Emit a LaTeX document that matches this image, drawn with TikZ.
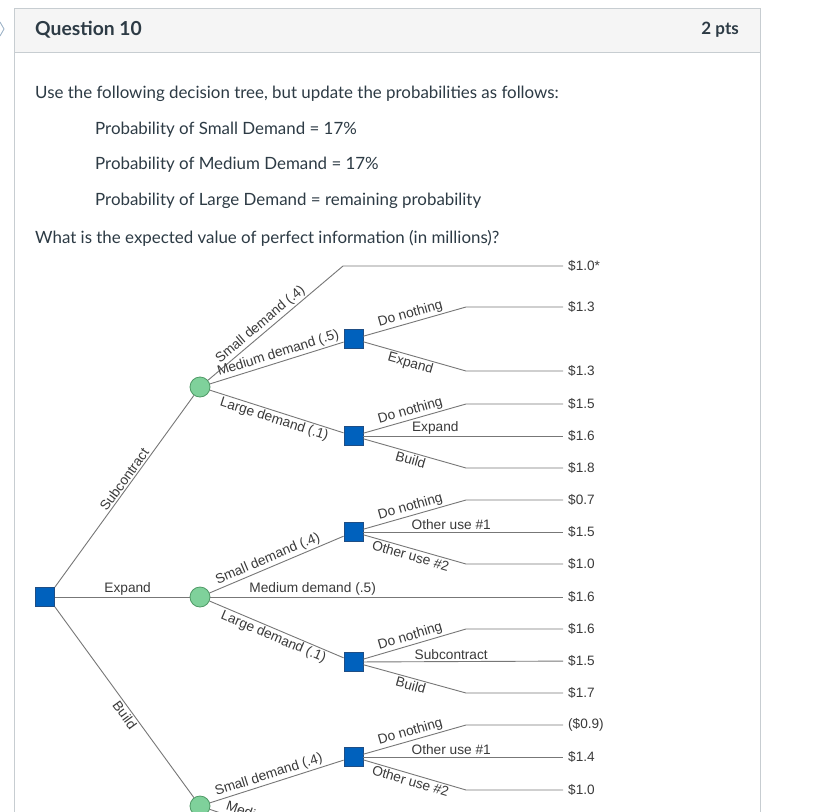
\documentclass[tikz,border=0pt]{standalone}
\usepackage{fontspec}
\setmainfont{Lato}
\newfontfamily\treefont{Liberation Sans}
\definecolor{frame}{HTML}{C7CDD1}
\definecolor{headbg}{HTML}{F5F5F5}
\definecolor{ink}{HTML}{2D3B45}
\definecolor{decblue}{HTML}{0061BD}
\definecolor{decborder}{HTML}{1F4E85}
\definecolor{chgreen}{HTML}{7FD19B}
\definecolor{chborder}{HTML}{4F9A66}
\definecolor{linegray}{HTML}{777777}
\definecolor{labelgray}{HTML}{3A3A3A}
\definecolor{chev}{HTML}{9FB4C8}
\begin{document}
\begin{tikzpicture}[x=1pt,y=-1pt,
  dec/.style={rectangle, draw=decborder, fill=decblue, minimum size=19pt, inner sep=0pt, line width=0.8pt},
  chance/.style={circle, draw=chborder, fill=chgreen, minimum size=20pt, inner sep=0pt, line width=0.8pt},
  branch/.style={draw=linegray, line width=0.9pt},
  lbl/.style={font=\treefont\fontsize{13.7}{15}\selectfont, text=labelgray, inner sep=1.6pt, sloped},
  val/.style={font=\treefont\fontsize{13.6}{15}\selectfont, text=labelgray, anchor=west, inner xsep=5pt, inner ysep=0pt},
  body/.style={font=\fontsize{16.9}{20}\selectfont, text=ink, anchor=west, inner sep=0pt},
]
\useasboundingbox (0,0) rectangle (840,811);
\clip (0,0) rectangle (840,811);
% frame and header
\fill[white] (0,0) rectangle (840,811);
\filldraw[fill=headbg, draw=frame, line width=0.9pt] (14,8) rectangle (760,52);
\draw[frame, line width=0.9pt] (14,52) -- (14,830);
\draw[frame, line width=0.9pt] (760,52) -- (760,830);
\draw[chev, line width=0.9pt] (0,22) -- (4,29) -- (0,36);
\node[anchor=west, inner sep=0pt, text=ink, font=\bfseries\fontsize{19.3}{22}\selectfont] (qtitle) at (35,30) {Question 10};
\node[anchor=east, inner sep=0pt, text=ink, font=\bfseries\fontsize{17}{20}\selectfont] (pts) at (739,30) {2 pts};
% body text
\node[body] (t1) at (35,94) {Use the following decision tree, but update the probabilities as follows:};
\node[body] (t2) at (95,130) {Probability of Small Demand = 17\%};
\node[body] (t3) at (95,165) {Probability of Medium Demand = 17\%};
\node[body] (t4) at (95,201) {Probability of Large Demand = remaining probability};
\node[body] (t5) at (35,238) {What is the expected value of perfect information (in millions)?};
% value labels
\node[val] (v1) at (563,266) {\$1.0*};
\node[val] (v2) at (563,307) {\$1.3};
\node[val] (v3) at (563,371) {\$1.3};
\node[val] (v4) at (563,404) {\$1.5};
\node[val] (v5) at (563,436) {\$1.6};
\node[val] (v6) at (563,468) {\$1.8};
\node[val] (v7) at (563,500) {\$0.7};
\node[val] (v8) at (563,532) {\$1.5};
\node[val] (v9) at (563,564) {\$1.0};
\node[val] (v10) at (563,597) {\$1.6};
\node[val] (v11) at (563,629) {\$1.6};
\node[val] (v12) at (563,661) {\$1.5};
\node[val] (v13) at (563,693) {\$1.7};
\node[val] (v14) at (563,725) {(\$0.9)};
\node[val] (v15) at (563,757) {\$1.4};
\node[val] (v16) at (563,790) {\$1.0};
% bend points
\coordinate (b1) at (343,266);
\coordinate (b2) at (466,307);
\coordinate (b3) at (466,371);
\coordinate (b4) at (466,404);
\coordinate (b6) at (466,468);
\coordinate (b7) at (466,500);
\coordinate (b9) at (466,564);
\coordinate (b11) at (466,629);
\coordinate (b13) at (466,693);
\coordinate (b14) at (466,725);
\coordinate (b16) at (466,790);
\coordinate (m3) at (344,855);
% nodes
\node[dec] (root) at (45,597) {};
\node[chance] (c1) at (200,387) {};
\node[chance] (c2) at (200,597) {};
\node[chance] (c3) at (200,806) {};
\node[dec] (d1) at (353.5,339) {};
\node[dec] (d2) at (353.5,436) {};
\node[dec] (d3) at (353.5,532) {};
\node[dec] (d4) at (353.5,662) {};
\node[dec] (d5) at (353.5,757) {};
% root branches
\draw[branch] (root.north east) -- node[lbl,above,pos=0.54]{Subcontract} (c1);
\draw[branch] (root) -- node[lbl,above,pos=0.54]{Expand} (c2);
\draw[branch] (root.south east) -- node[lbl,below,pos=0.545]{Build} (c3);
% subcontract chance
\draw[branch] (c1) -- node[lbl,above,pos=0.43]{Small demand (.4)} (b1) -- (v1);
\draw[branch] (c1) -- node[lbl,above,pos=0.53]{Medium demand (.5)} (d1);
\draw[branch] (c1) -- node[lbl,below,pos=0.5]{Large demand (.1)} (d2);
\draw[branch] (d1) -- node[lbl,above,pos=0.48]{Do nothing} (b2) -- (v2);
\draw[branch] (d1) -- node[lbl,below,pos=0.48]{Expand} (b3) -- (v3);
\draw[branch] (d2) -- node[lbl,above,pos=0.48]{Do nothing} (b4) -- (v4);
\draw[branch] (d2) -- node[lbl,above,pos=0.36]{Expand} (v5);
\draw[branch] (d2) -- node[lbl,below,pos=0.48]{Build} (b6) -- (v6);
% expand chance
\draw[branch] (c2) -- node[lbl,above,pos=0.46]{Small demand (.4)} (d3);
\draw[branch] (c2) -- node[lbl,above,pos=0.29]{Medium demand (.5)} (v10);
\draw[branch] (c2) -- node[lbl,below,pos=0.5]{Large demand (.1)} (d4);
\draw[branch] (d3) -- node[lbl,above,pos=0.48]{Do nothing} (b7) -- (v7);
\draw[branch] (d3) -- node[lbl,above,pos=0.44]{Other use \#1} (v8);
\draw[branch] (d3) -- node[lbl,below,pos=0.48]{Other use \#2} (b9) -- (v9);
\draw[branch] (d4) -- node[lbl,above,pos=0.48]{Do nothing} (b11) -- (v11);
\draw[branch] (d4) -- node[lbl,above,pos=0.44]{Subcontract} (v12);
\draw[branch] (d4) -- node[lbl,below,pos=0.48]{Build} (b13) -- (v13);
% build chance
\draw[branch] (c3) -- node[lbl,above,pos=0.46]{Small demand (.4)} (d5);
\draw[branch] (c3) -- node[lbl,above,pos=0.55]{Medium demand (.5)} (m3);
\draw[branch] (d5) -- node[lbl,above,pos=0.48]{Do nothing} (b14) -- (v14);
\draw[branch] (d5) -- node[lbl,above,pos=0.44]{Other use \#1} (v15);
\draw[branch] (d5) -- node[lbl,below,pos=0.48]{Other use \#2} (b16) -- (v16);
\end{tikzpicture}
\end{document}
